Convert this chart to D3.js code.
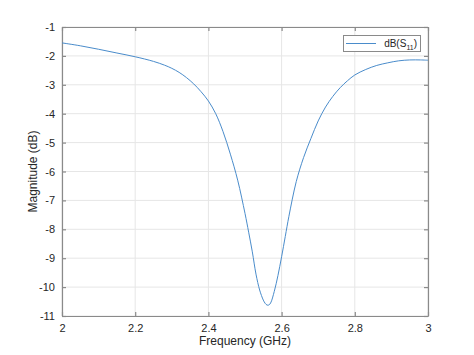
<!DOCTYPE html>
<html><head><meta charset="utf-8">
<script src="https://cdn.jsdelivr.net/npm/d3@7"></script>
<style>body{margin:0;background:#fff}svg{display:block}text{font-family:"Liberation Sans",Arial,Helvetica,sans-serif;fill:#262626}</style>
</head><body>
<script>
const freq = [2.00,2.05,2.10,2.15,2.20,2.25,2.28,2.30,2.32,2.34,2.36,2.38,2.40,2.42,2.44,2.46,2.48,2.50,2.51,2.52,2.53,2.54,2.55,2.555,2.56,2.565,2.57,2.58,2.59,2.60,2.61,2.62,2.64,2.66,2.68,2.70,2.72,2.74,2.76,2.78,2.80,2.83,2.86,2.89,2.92,2.95,2.98,3.00];
const s11dB = [-1.55,-1.65,-1.77,-1.90,-2.03,-2.19,-2.32,-2.43,-2.57,-2.75,-2.97,-3.24,-3.56,-4.00,-4.62,-5.40,-6.30,-7.45,-8.10,-8.78,-9.55,-10.10,-10.45,-10.56,-10.62,-10.62,-10.55,-10.15,-9.60,-8.95,-8.25,-7.55,-6.35,-5.52,-4.86,-4.25,-3.77,-3.40,-3.10,-2.86,-2.66,-2.47,-2.33,-2.24,-2.17,-2.14,-2.14,-2.15];
const xTicks = [2,2.2,2.4,2.6,2.8,3];
const yTicks = [-1,-2,-3,-4,-5,-6,-7,-8,-9,-10,-11];
const seriesName = "dB(S";
const seriesSub = "11";

const W=474,H=355, L=62,R=428,T=27,B=316;
const svg=d3.select("body").append("svg").attr("width",W).attr("height",H);
const x=d3.scaleLinear().domain([2,3]).range([L,R]);
const y=d3.scaleLinear().domain([-11,-1]).range([B,T]);
const axisCol="#8a8a8a", gridCol="#e6e6e6";

const g=svg.append("g");
g.selectAll(".gx").data(xTicks).join("line").attr("x1",d=>x(d)).attr("x2",d=>x(d)).attr("y1",T).attr("y2",B).attr("stroke",gridCol).attr("stroke-width",1);
g.selectAll(".gy").data(yTicks).join("line").attr("x1",L).attr("x2",R).attr("y1",d=>y(d)).attr("y2",d=>y(d)).attr("stroke",gridCol).attr("stroke-width",1);

const tl=4;
const fmt=d=>String(d);
const ax=svg.append("g").attr("transform",`translate(0,${B})`).call(d3.axisBottom(x).tickValues(xTicks).tickSizeInner(-tl).tickSizeOuter(0).tickPadding(8).tickFormat(fmt));
const axt=svg.append("g").attr("transform",`translate(0,${T})`).call(d3.axisTop(x).tickValues(xTicks).tickSizeInner(-tl).tickSizeOuter(0).tickFormat(""));
const ay=svg.append("g").attr("transform",`translate(${L},0)`).call(d3.axisLeft(y).tickValues(yTicks).tickSizeInner(-tl).tickSizeOuter(0).tickPadding(7).tickFormat(fmt));
const ayr=svg.append("g").attr("transform",`translate(${R},0)`).call(d3.axisRight(y).tickValues(yTicks).tickSizeInner(-tl).tickSizeOuter(0).tickFormat(""));
[ax,axt,ay,ayr].forEach(a=>{a.selectAll("path,line").attr("stroke",axisCol).attr("stroke-width",1.2);a.selectAll("text").attr("font-size",11).attr("fill","#262626").attr("font-family","Liberation Sans, Arial, sans-serif");});
ax.selectAll("text").attr("dy","0.71em");

const line=d3.line().x((d,i)=>x(freq[i])).y(d=>y(d)).curve(d3.curveCatmullRom.alpha(0.5));
svg.append("path").datum(s11dB).attr("d",line).attr("fill","none").attr("stroke","#4a8ccb").attr("stroke-width",1);

svg.append("text").attr("x",(L+R)/2).attr("y",345).attr("text-anchor","middle").attr("font-size",12).text("Frequency (GHz)");
svg.append("text").attr("transform",`translate(37,${(T+B)/2}) rotate(-90)`).attr("text-anchor","middle").attr("font-size",12).text("Magnitude (dB)");

const lg=svg.append("g");
lg.append("rect").attr("x",343.5).attr("y",35.5).attr("width",77).attr("height",16).attr("fill","#fff").attr("stroke","#8a8a8a").attr("stroke-width",1);
lg.append("line").attr("x1",346).attr("x2",376).attr("y1",43.5).attr("y2",43.5).attr("stroke","#4a8ccb").attr("stroke-width",1);
const lt=lg.append("text").attr("x",417).attr("y",47).attr("text-anchor","end").attr("font-size",10);
lt.append("tspan").text(seriesName);
lt.append("tspan").attr("font-size",7).attr("dy",2.5).text(seriesSub);
lt.append("tspan").attr("dy",-2.5).text(")");
</script>
</body></html>
